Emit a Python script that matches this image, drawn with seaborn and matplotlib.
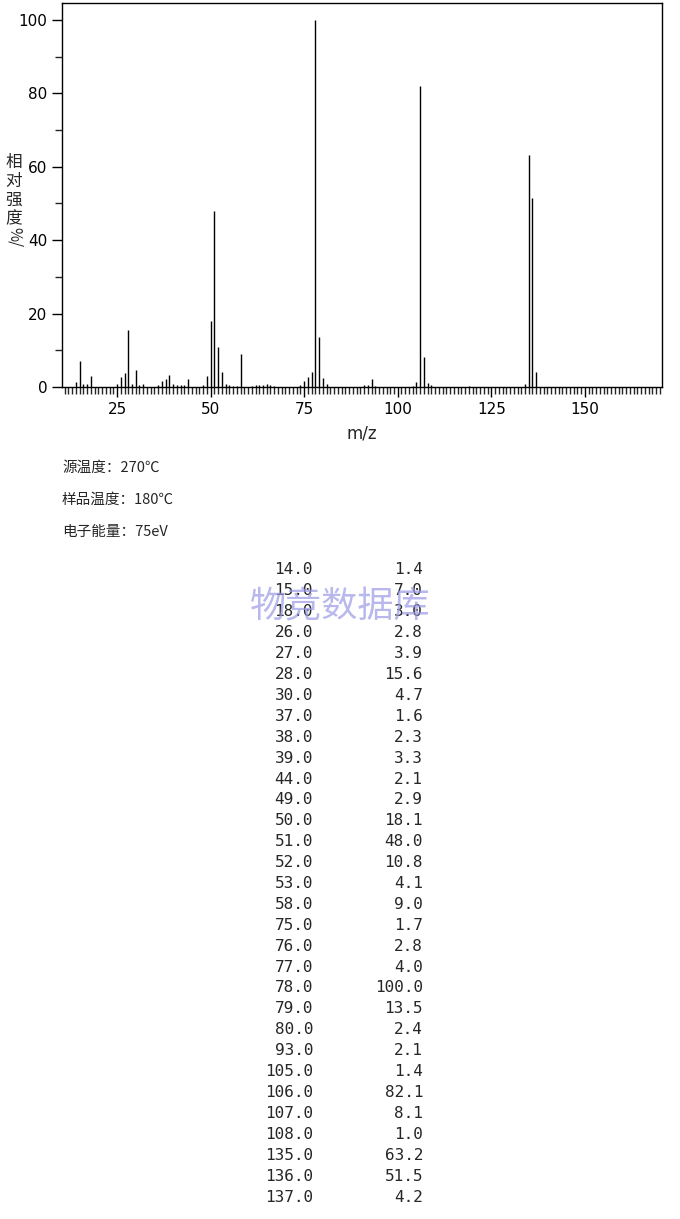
"""Mass spectrum bar chart with peak table."""

import matplotlib

matplotlib.use("Agg")

import matplotlib.pyplot as plt  # noqa: E402
import seaborn as sns  # noqa: E402
from matplotlib.ticker import MultipleLocator  # noqa: E402

# Peaks listed in the table (m/z, relative intensity)
table_mz = [14, 15, 18, 26, 27, 28, 30, 37, 38, 39, 44, 49, 50, 51, 52, 53, 58,
            75, 76, 77, 78, 79, 80, 93, 105, 106, 107, 108, 135, 136, 137]
table_int = [1.4, 7.0, 3.0, 2.8, 3.9, 15.6, 4.7, 1.6, 2.3, 3.3, 2.1, 2.9, 18.1,
             48.0, 10.8, 4.1, 9.0, 1.7, 2.8, 4.0, 100.0, 13.5, 2.4, 2.1, 1.4,
             82.1, 8.1, 1.0, 63.2, 51.5, 4.2]

# Small peaks visible in the spectrum but below the table threshold
minor_mz = [16, 17, 25, 29, 31, 32, 36, 40, 41, 42, 43, 48, 54, 55, 56, 57,
            61, 62, 63, 64, 65, 66, 67, 74, 81, 91, 92, 94, 104, 109, 119, 134]
minor_int = [0.8, 0.8, 0.9, 0.9, 0.5, 0.9, 0.5, 0.7, 0.6, 0.5, 0.5, 0.6, 0.7,
             0.5, 0.4, 0.4, 0.4, 0.5, 0.6, 0.5, 0.9, 0.6, 0.4, 0.5, 0.9, 0.5,
             0.6, 0.4, 0.4, 0.5, 0.4, 0.8]

W, H = 680, 1219

sns.set_theme(style="ticks")
plt.rcParams["font.family"] = ["DejaVu Sans", "Noto Sans CJK SC"]
cjk = ["Noto Sans CJK SC", "DejaVu Sans"]

fig = plt.figure(figsize=(W / 100, H / 100), dpi=100)
ax = fig.add_axes([62 / W, 1 - 387 / H, 600 / W, 384 / H])

mz = table_mz + minor_mz
inten = table_int + minor_int
ax.vlines(mz, 0, inten, color="black", linewidth=1.0)

ax.set_xlim(10.3, 170.6)
ax.set_ylim(0, 104.6)
ax.xaxis.set_major_locator(MultipleLocator(25))
ax.xaxis.set_minor_locator(MultipleLocator(1))
ax.yaxis.set_major_locator(MultipleLocator(20))
ax.yaxis.set_minor_locator(MultipleLocator(10))
ax.tick_params(axis="both", which="major", length=7, width=1, labelsize=11,
               colors="black")
ax.tick_params(axis="x", which="minor", length=5, width=1)
ax.tick_params(axis="y", which="minor", length=5, width=1)
for sp in ax.spines.values():
    sp.set_linewidth(1)
    sp.set_color("black")
ax.set_xlabel("m/z", fontsize=12, labelpad=6)

# Vertical y label: stacked characters plus rotated "%/"
for i, ch in enumerate("相对强度"):
    fig.text(14 / W, 1 - (162 + i * 19) / H, ch, fontsize=12, family=cjk,
             ha="center", va="center")
fig.text(14 / W, 1 - 237 / H, "%/", fontsize=11, family=cjk, rotation=-90,
         ha="center", va="center")

for y, s in [(468, "源温度：270℃"), (500, "样品温度：180℃"), (532, "电子能量：75eV")]:
    fig.text(62 / W, 1 - y / H, s, fontsize=10.5, family=cjk, va="center")

labels_mz = [f"{m:.1f}" for m in table_mz]
labels_int = [f"{v:.1f}" for v in table_int]
for i, (a, b) in enumerate(zip(labels_mz, labels_int)):
    y = 570 + i * 20.9
    fig.text(313 / W, 1 - y / H, a, fontsize=11.5, family="DejaVu Sans Mono",
             ha="right", va="center")
    fig.text(423 / W, 1 - y / H, b, fontsize=11.5, family="DejaVu Sans Mono",
             ha="right", va="center")

fig.text(340 / W, 1 - 608 / H, "物竞数据库", fontsize=26, family=cjk,
         ha="center", va="center", color="#9a9ae6", alpha=0.7)

fig.savefig("out.png", dpi=100, facecolor="white")
